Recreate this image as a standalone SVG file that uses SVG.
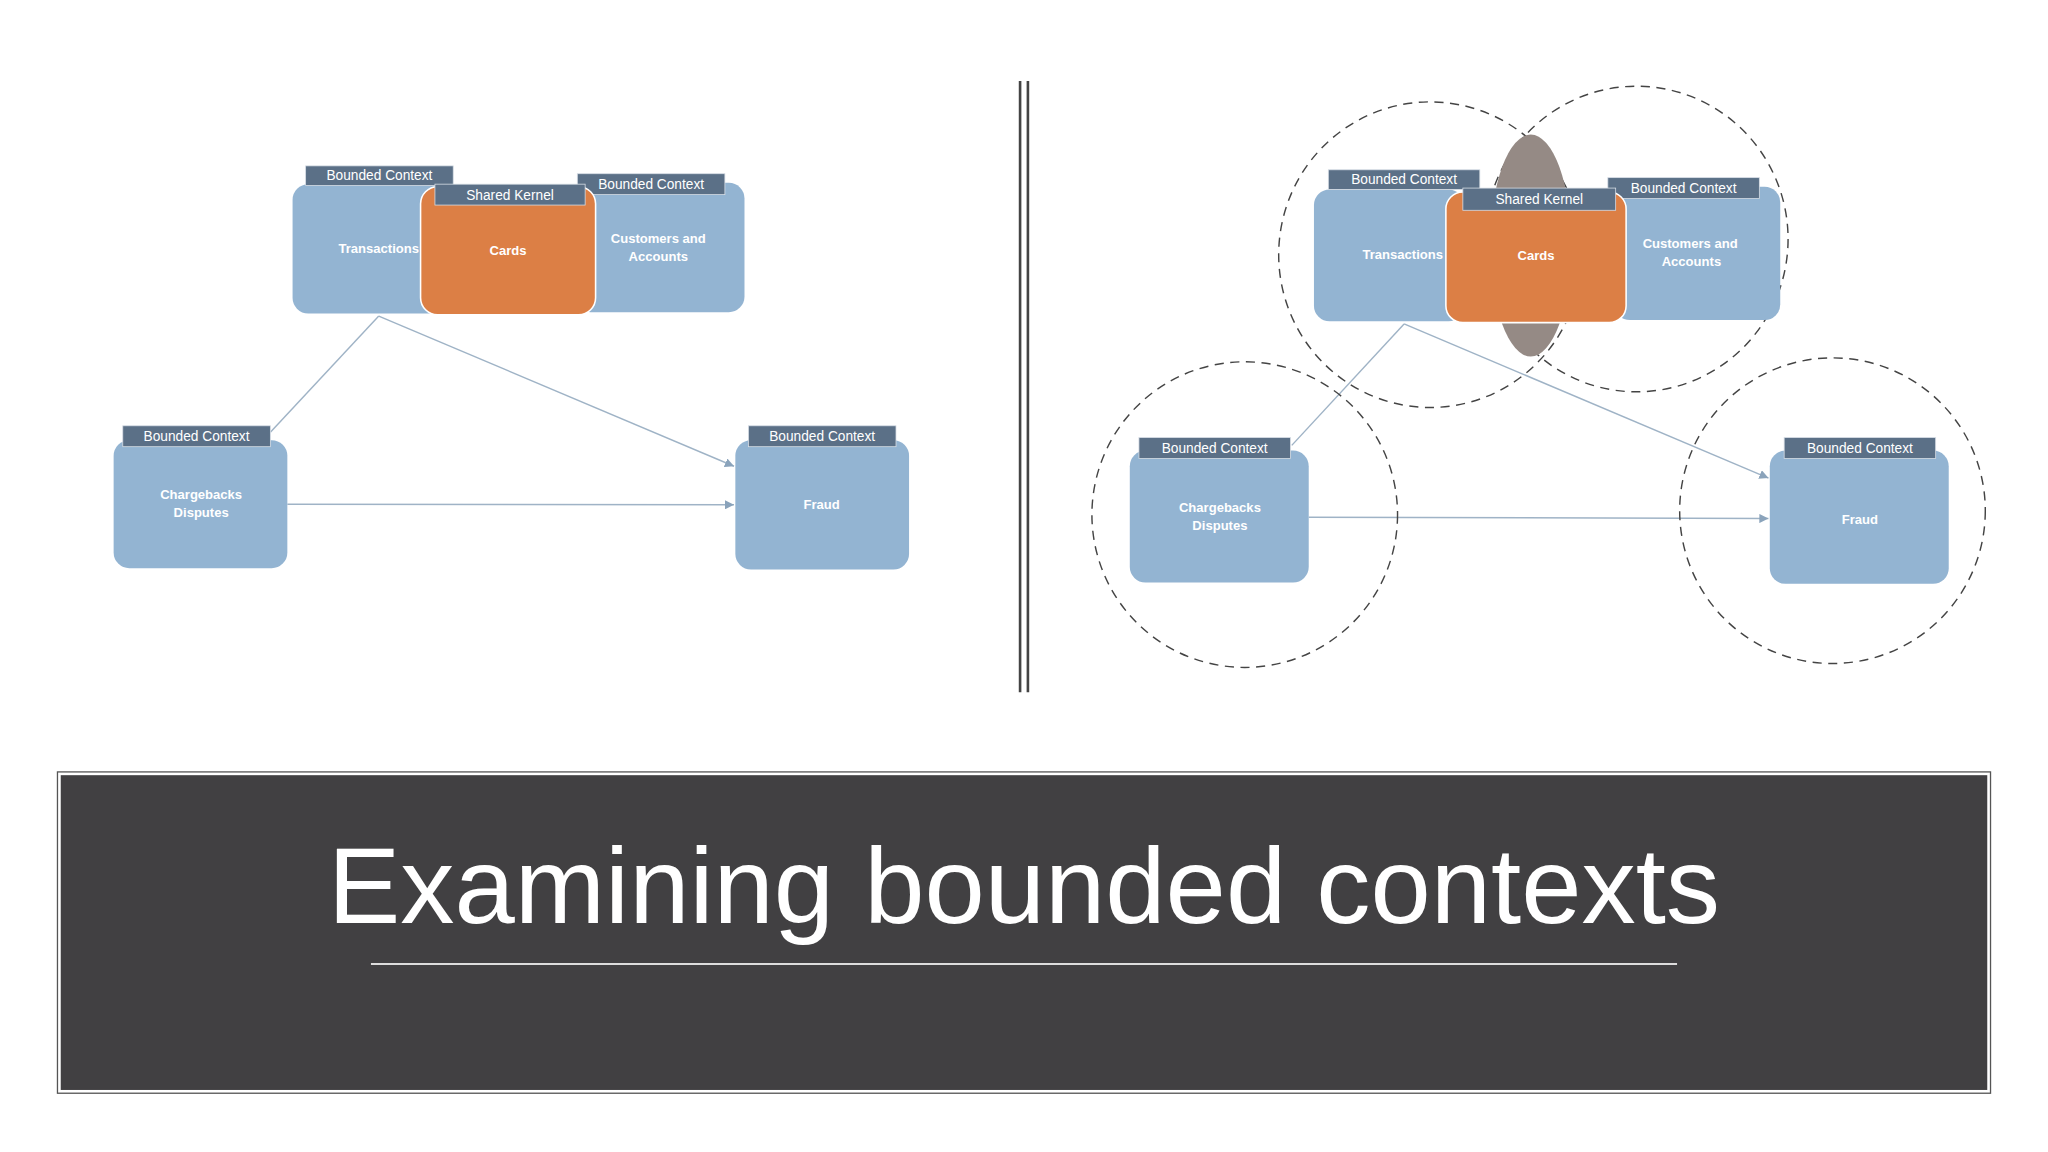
<svg xmlns="http://www.w3.org/2000/svg" width="2048" height="1152" viewBox="0 0 2048 1152">
<defs>
<style>
.box{fill:#93b4d2}
.card{fill:#dc7f45;stroke:#fff;stroke-width:1.2}
.tab{fill:#5b7087;stroke:#d8dee6;stroke-width:0.6}
.tt{font-family:"Liberation Sans",Arial,sans-serif;font-size:10.5px;fill:#fff;text-anchor:middle}
.bt{font-family:"Liberation Sans",Arial,sans-serif;font-size:10px;font-weight:bold;fill:#fff;text-anchor:middle}
.ln{stroke:#9fb3c6;stroke-width:1.1;fill:none}
.dc{fill:none;stroke:#444;stroke-width:1.1;stroke-dasharray:7 5}
</style>
<marker id="ah" viewBox="0 0 10 10" refX="10" refY="5" markerWidth="7" markerHeight="7" orient="auto" markerUnits="userSpaceOnUse"><path d="M0,0 L10,5 L0,10 z" fill="#8aa3bb"/></marker>
</defs>
<rect width="2048" height="1152" fill="#fff"/>
<g transform="scale(1.30612)">
<g id="divider"><line x1="781" y1="62" x2="781" y2="530" stroke="#444" stroke-width="2"/><line x1="787" y1="62" x2="787" y2="530" stroke="#444" stroke-width="2"/></g>

<g id="connectors">
<line class="ln" x1="290" y1="242" x2="207" y2="331"/>
<line class="ln" x1="290" y1="242" x2="562" y2="357" marker-end="url(#ah)"/>
<line class="ln" x1="220" y1="386" x2="562" y2="386.5" marker-end="url(#ah)"/>
<line class="ln" x1="1075" y1="248" x2="989" y2="341"/>
<line class="ln" x1="1075" y1="248" x2="1354" y2="366" marker-end="url(#ah)"/>
<line class="ln" x1="1002" y1="396" x2="1354" y2="397" marker-end="url(#ah)"/>
</g>

<g id="l-trans"><rect class="box" x="224" y="141" width="120" height="99" rx="12"/><rect class="tab" x="234" y="127" width="113" height="15"/><text class="tt" x="290.5" y="138">Bounded Context</text><text class="bt" x="290" y="194">Transactions</text></g>
<g id="l-cust"><rect class="box" x="440" y="140" width="130" height="99" rx="12"/><rect class="tab" x="442" y="133" width="113" height="16"/><text class="tt" x="498.5" y="145">Bounded Context</text><text class="bt" x="504" y="186">Customers and</text><text class="bt" x="504" y="200">Accounts</text></g>
<g id="l-cards"><rect class="card" x="322" y="143" width="134" height="98" rx="13"/><rect class="tab" x="333" y="141" width="115" height="16"/><text class="tt" x="390.5" y="153">Shared Kernel</text><text class="bt" x="389" y="195">Cards</text></g>
<g id="l-charge"><rect class="box" x="87" y="337" width="133" height="98" rx="12"/><rect class="tab" x="94" y="326" width="113" height="16"/><text class="tt" x="150.5" y="338">Bounded Context</text><text class="bt" x="154" y="382">Chargebacks</text><text class="bt" x="154" y="396">Disputes</text></g>
<g id="l-fraud"><rect class="box" x="563" y="337" width="133" height="99" rx="12"/><rect class="tab" x="573" y="326" width="113" height="16"/><text class="tt" x="629.5" y="338">Bounded Context</text><text class="bt" x="629" y="390">Fraud</text></g>

<g id="r-circles">
<ellipse cx="1095" cy="195" rx="116" ry="117" class="dc"/>
<ellipse cx="1253" cy="183" rx="116" ry="117" class="dc"/>
<ellipse cx="953" cy="394" rx="117" ry="117" class="dc"/>
<ellipse cx="1403" cy="391" rx="117" ry="117" class="dc"/>
</g>
<g id="r-kernel-shape"><ellipse cx="1172" cy="188" rx="31" ry="85" fill="#958a85"/></g>
<g id="r-trans"><rect class="box" x="1006" y="145" width="115" height="101" rx="12"/><rect class="tab" x="1017" y="130" width="116" height="15"/><text class="tt" x="1075" y="141">Bounded Context</text><text class="bt" x="1074" y="198">Transactions</text></g>
<g id="r-cust"><rect class="box" x="1236" y="143" width="127" height="102" rx="12"/><rect class="tab" x="1231" y="136" width="116" height="16"/><text class="tt" x="1289" y="148">Bounded Context</text><text class="bt" x="1294" y="190">Customers and</text><text class="bt" x="1295" y="204">Accounts</text></g>
<g id="r-cards"><rect class="card" x="1107" y="147" width="138" height="100" rx="13"/><rect class="tab" x="1120" y="144" width="117" height="17"/><text class="tt" x="1178.5" y="156">Shared Kernel</text><text class="bt" x="1176" y="199">Cards</text></g>
<g id="r-charge"><rect class="box" x="865" y="345" width="137" height="101" rx="12"/><rect class="tab" x="872" y="335" width="116" height="16"/><text class="tt" x="930" y="347">Bounded Context</text><text class="bt" x="934" y="392">Chargebacks</text><text class="bt" x="934" y="406">Disputes</text></g>
<g id="r-fraud"><rect class="box" x="1355" y="345" width="137" height="102" rx="12"/><rect class="tab" x="1366" y="335" width="116" height="16"/><text class="tt" x="1424" y="347">Bounded Context</text><text class="bt" x="1424" y="401">Fraud</text></g>

<g id="banner">
<rect x="44" y="591" width="1480" height="246" fill="#414042" stroke="#fff" stroke-width="5"/>
<rect x="44" y="591" width="1480" height="246" fill="none" stroke="#555" stroke-width="1"/>
<text x="784" y="707" font-family="Liberation Sans,Arial,sans-serif" font-size="83" fill="#fff" text-anchor="middle">Examining bounded contexts</text>
<line x1="284" y1="738" x2="1284" y2="738" stroke="#ddd" stroke-width="1.5"/>
</g>
</g>
</svg>
